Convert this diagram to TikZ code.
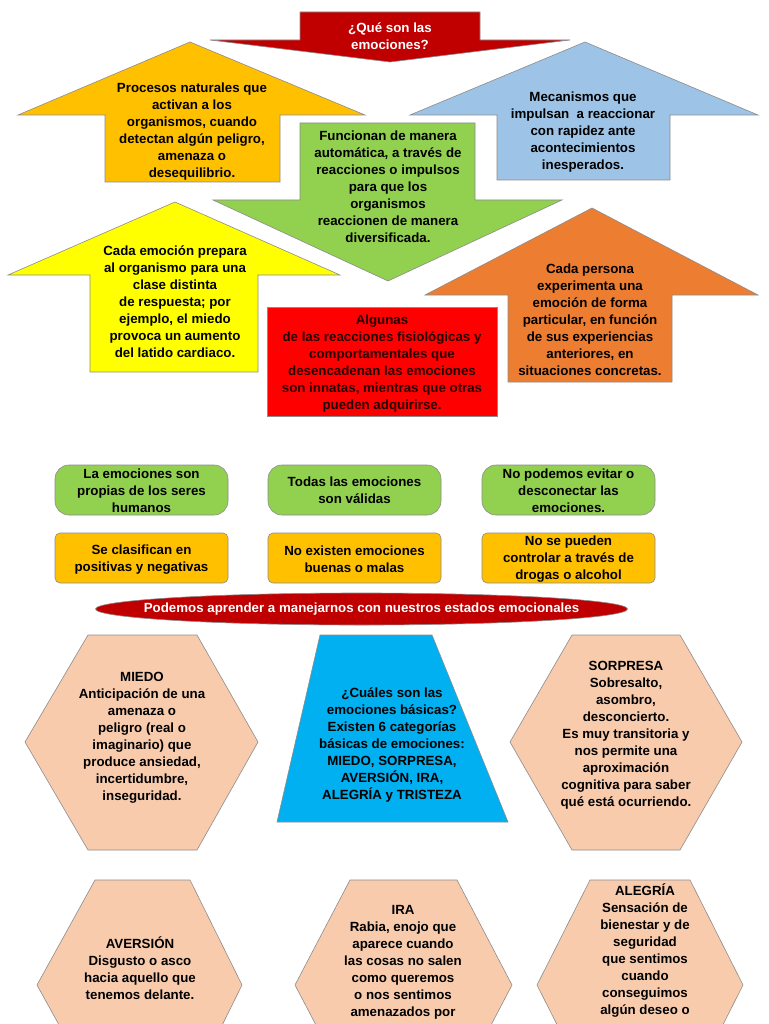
\documentclass[tikz,border=0pt]{standalone}
\usepackage{fontspec}
\setmainfont{Liberation Sans}
\begin{document}
\begin{tikzpicture}[x=1pt,y=-1pt,
 shp/.style={draw=black!45,line width=0.6pt},
 txt/.style={align=center,font=\bfseries\fontsize{13.3}{17}\selectfont,inner sep=0pt,yshift=-2.5pt},
 pill/.style={shp,rounded corners=14pt,fill=grn},
 boxo/.style={shp,rounded corners=5pt,fill=oro}]
\definecolor{oro}{HTML}{FFC000}\definecolor{blu}{HTML}{9DC3E6}
\definecolor{grn}{HTML}{92D050}\definecolor{ylw}{HTML}{FFFF00}
\definecolor{org}{HTML}{ED7D31}\definecolor{rd}{HTML}{FF0000}
\definecolor{pch}{HTML}{F8CBAD}\definecolor{cy}{HTML}{00B0F0}
\definecolor{ban}{HTML}{C00000}
\useasboundingbox (0,0) rectangle (768,1024);
\fill[white] (0,0) rectangle (768,1024);
% top red arrow
\draw[shp,fill=ban] (300,12)--(480,12)--(480,40)--(570,40)--(390,62)--(210,40)--(300,40)--cycle;
\node[txt,text=white] (q) at (390,34) {¿Qué son las\\emociones?};
% orange up arrow
\draw[shp,fill=oro] (190,42)--(365,115)--(280,115)--(280,182)--(105,182)--(105,115)--(18,115)--cycle;
\node[txt] (a1) at (192,129) {Procesos naturales que\\activan a los\\organismos, cuando\\detectan algún peligro,\\amenaza o\\desequilibrio.};
% blue up arrow
\draw[shp,fill=blu] (585,42)--(758,115)--(670,115)--(670,180)--(497,180)--(497,115)--(410,115)--cycle;
\node[txt] (a2) at (583,130) {Mecanismos que\\impulsan \ a reaccionar\\con rapidez ante\\acontecimientos\\inesperados.};
% green down arrow
\draw[shp,fill=grn] (300,123)--(475,123)--(475,200)--(562,200)--(388,281)--(213,200)--(300,200)--cycle;
\node[txt] (a3) at (388,184) {Funcionan de manera\\automática, a través de\\reacciones o impulsos\\para que los\\organismos\\reaccionen de manera\\diversificada.};
% yellow up arrow
\draw[shp,fill=ylw] (175,202)--(340,275)--(258,275)--(258,372)--(90,372)--(90,275)--(8,275)--cycle;
\node[txt] (a4) at (175,299) {Cada emoción prepara\\al organismo para una\\clase distinta\\de respuesta; por\\ejemplo, el miedo\\provoca un aumento\\del latido cardiaco.};
% orange2 up arrow
\draw[shp,fill=org] (592,208)--(758,295)--(672,295)--(672,382)--(508,382)--(508,295)--(425,295)--cycle;
\node[txt] (a5) at (590,317) {Cada persona\\experimenta una\\emoción de forma\\particular, en función\\de sus experiencias\\anteriores, en\\situaciones concretas.};
% red rect
\draw[shp,fill=rd] (267,307) rectangle (497,416);
\node[txt,text=black!85!red] (r) at (382,361) {Algunas\\de las reacciones fisiológicas y\\comportamentales que\\desencadenan las emociones\\son innatas, mientras que otras\\pueden adquirirse.};
% pills
\draw[pill] (55,465) rectangle (228,515); \node[txt] (p1) at (141.5,488) {La emociones son\\propias de los seres\\humanos};
\draw[pill] (268,465) rectangle (441,515); \node[txt] (p2) at (354.5,488) {Todas las emociones\\son válidas};
\draw[pill] (482,465) rectangle (655,515); \node[txt] (p3) at (568.5,488) {No podemos evitar o\\desconectar las\\emociones.};
\draw[boxo] (55,533) rectangle (228,583); \node[txt] (o1) at (141.5,557) {Se clasifican en\\positivas y negativas};
\draw[boxo] (268,533) rectangle (441,583); \node[txt] (o2) at (354.5,557) {No existen emociones\\buenas o malas};
\draw[boxo] (482,533) rectangle (655,583); \node[txt] (o3) at (568.5,557) {No se pueden\\controlar a través de\\drogas o alcohol};
% banner
\draw[shp,fill=ban] (361.5,609) ellipse [x radius=266, y radius=16];
\node[txt,text=white] (b) at (361.5,607) {Podemos aprender a manejarnos con nuestros estados emocionales};
% hexagons top
\draw[shp,fill=pch] (88,635)--(197,635)--(258,742)--(197,850)--(88,850)--(25,742)--cycle;
\node[txt] (h1) at (142,735) {MIEDO\\Anticipación de una\\amenaza o\\peligro (real o\\imaginario) que\\produce ansiedad,\\incertidumbre,\\inseguridad.};
\draw[shp,fill=cy] (320,635)--(432,635)--(508,822)--(277,822)--cycle;
\node[txt] (h2) at (392,742) {¿Cuáles son las\\emociones básicas?\\Existen 6 categorías\\básicas de emociones:\\MIEDO, SORPRESA,\\AVERSIÓN, IRA,\\ALEGRÍA y TRISTEZA};
\draw[shp,fill=pch] (572,635)--(680,635)--(742,742)--(680,850)--(572,850)--(510,742)--cycle;
\node[txt] (h3) at (626,733) {SORPRESA\\Sobresalto,\\asombro,\\desconcierto.\\Es muy transitoria y\\nos permite una\\aproximación\\cognitiva para saber\\qué está ocurriendo.};
% hexagons bottom
\draw[shp,fill=pch] (95,880)--(190,880)--(242,985)--(190,1090)--(95,1090)--(37,985)--cycle;
\node[txt] (h4) at (140,966) {AVERSIÓN\\Disgusto o asco\\hacia aquello que\\tenemos delante.};
\draw[shp,fill=pch] (350,880)--(457,880)--(512,985)--(457,1090)--(350,1090)--(295,985)--cycle;
\node[txt] (h5) at (403,960) {IRA\\Rabia, enojo que\\aparece cuando\\las cosas no salen\\como queremos\\o nos sentimos\\amenazados por};
\draw[shp,fill=pch] (590,880)--(690,880)--(743,985)--(690,1090)--(590,1090)--(537,985)--cycle;
\node[txt] (h6) at (645,948) {ALEGRÍA\\Sensación de\\bienestar y de\\seguridad\\que sentimos\\cuando\\conseguimos\\algún deseo o};
\end{tikzpicture}
\end{document}
